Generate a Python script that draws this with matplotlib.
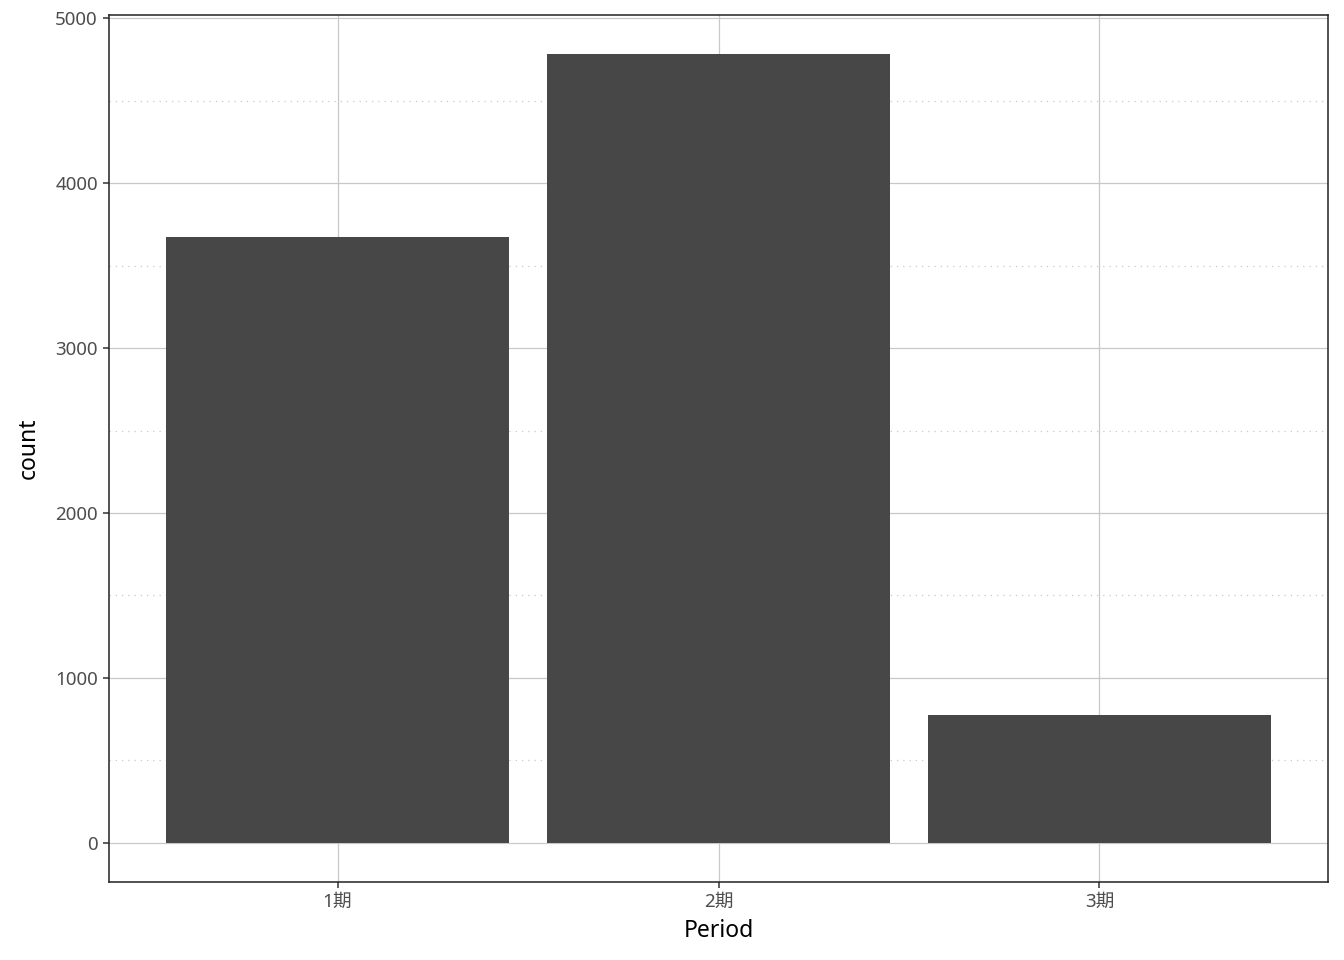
import matplotlib
matplotlib.use("Agg")
import matplotlib.pyplot as plt
from matplotlib.ticker import MultipleLocator

plt.rcParams['font.family'] = ['Noto Sans', 'Noto Sans CJK JP', 'DejaVu Sans']

periods = ["1期", "2期", "3期"]
counts = [3673, 4782, 776]

fig = plt.figure(figsize=(13.44, 9.6), dpi=100)
ax = fig.add_axes([109 / 1344, 1 - 882 / 960, (1328 - 109) / 1344, (882 - 15) / 960])

x = list(range(1, len(periods) + 1))
ax.bar(x, counts, width=0.9, color="#474747", zorder=3)

ax.set_xlim(0.4, 3.6)
top = max(counts)
ax.set_ylim(-0.05 * top, top * 1.05)
ax.set_xticks(x)
ax.set_xticklabels(periods)
ax.yaxis.set_major_locator(MultipleLocator(1000))
ax.yaxis.set_minor_locator(MultipleLocator(500))

# grid like theme_bw
ax.grid(which="major", axis="both", color="#c8c8c8", linewidth=0.9, zorder=0)
ax.grid(which="minor", axis="y", color="#c8c8c8", linewidth=0.9,
        linestyle=(0, (1, 4)), zorder=0)
ax.set_axisbelow(True)

for s in ax.spines.values():
    s.set_color("#222222")
    s.set_linewidth(1.1)

ax.tick_params(which="major", length=4, width=1.1, color="#333333",
               labelsize=13.5, labelcolor="#4d4d4d", pad=4)
ax.tick_params(which="minor", length=0)

ax.set_xlabel("Period", fontsize=16.5, labelpad=6)
ax.set_ylabel("count", fontsize=16.5, labelpad=10)

fig.savefig("out.png", dpi=100)
